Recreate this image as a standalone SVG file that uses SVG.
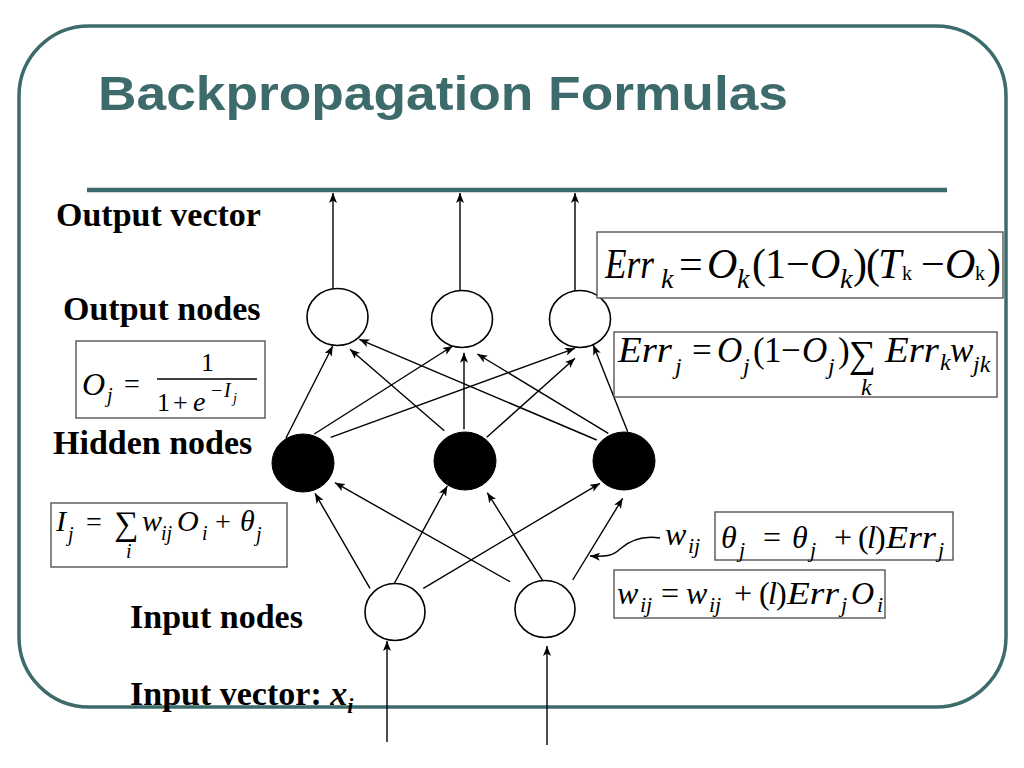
<svg xmlns="http://www.w3.org/2000/svg" width="1024" height="768" viewBox="0 0 1024 768">
<defs>
<marker id="ah" viewBox="0 0 10 8" markerUnits="userSpaceOnUse" markerWidth="10" markerHeight="8" refX="10" refY="4" orient="auto">
<path d="M0,0 L10,4 L0,8 L2.5,4 z" fill="#000"/>
</marker>
<style>
.frame{fill:none;stroke:#3d6b6b;stroke-width:3.5}
.rule{stroke:#3d6b6b;stroke-width:4.5}
.title{font-family:"Liberation Sans",Arial,sans-serif;font-weight:bold;font-size:48px;fill:#3d6b6b}
.lbl{font-family:"Liberation Serif","Times New Roman",serif;font-weight:bold;font-size:34px;fill:#000}
.wn{fill:#fff;stroke:#000;stroke-width:1.6}
.bn{fill:#000;stroke:#000;stroke-width:1}
.cn line,.cn path{stroke:#000;stroke-width:1.4;fill:none;marker-end:url(#ah)}
.box{fill:#fff;stroke:#555;stroke-width:1.4}
.mi{font-family:"Liberation Serif","Times New Roman",serif;font-style:italic;fill:#000}
.mn{font-family:"Liberation Serif","Times New Roman",serif;fill:#000}
</style>
</defs>
<rect width="1024" height="768" fill="#fff"/>
<rect class="frame" x="19" y="26" width="987" height="681" rx="70" ry="70"/>
<text class="title" x="98" y="110" textLength="690" lengthAdjust="spacingAndGlyphs">Backpropagation Formulas</text>
<line class="rule" x1="87" y1="190" x2="947" y2="190"/>

<g id="labels">
<text class="lbl" x="56" y="226">Output vector</text>
<text class="lbl" x="63" y="320">Output nodes</text>
<text class="lbl" x="53" y="454">Hidden nodes</text>
<text class="lbl" x="130" y="628">Input nodes</text>
<text class="lbl" x="130" y="705">Input vector: <tspan font-style="italic">x</tspan><tspan font-style="italic" font-size="22" y="713">i</tspan></text>
</g>

<g id="connectors" class="cn">
<line x1="333" y1="288" x2="333" y2="193"/>
<line x1="460" y1="291" x2="460" y2="193"/>
<line x1="575" y1="291" x2="575" y2="193"/>
<line x1="286" y1="438" x2="332.7" y2="346"/>
<line x1="314.3" y1="434" x2="452.7" y2="346"/>
<line x1="330.7" y1="437.3" x2="575" y2="348.3"/>
<line x1="444.3" y1="430.7" x2="350" y2="349.3"/>
<line x1="464" y1="429.3" x2="464" y2="352.7"/>
<line x1="486.7" y1="437.3" x2="575" y2="358.3"/>
<line x1="596.7" y1="440" x2="359.3" y2="339.3"/>
<line x1="608.3" y1="433.3" x2="477.3" y2="354"/>
<line x1="627.7" y1="431.7" x2="593.3" y2="345"/>
<line x1="370" y1="588.3" x2="315" y2="493.3"/>
<line x1="394" y1="584" x2="447.3" y2="486"/>
<line x1="423.3" y1="588.3" x2="600" y2="483.3"/>
<line x1="510" y1="581.7" x2="335" y2="482.7"/>
<line x1="542.7" y1="580.7" x2="487.3" y2="492.7"/>
<line x1="572.7" y1="580" x2="622.7" y2="498.3"/>
<line x1="387" y1="742" x2="387" y2="641"/>
<line x1="547" y1="745" x2="547" y2="646"/>
<path d="M660,538 C640,535 628,542 620,549 C613,556 605,557 590,556"/>
</g>

<g id="output-node-1"><ellipse class="wn" cx="337.5" cy="317" rx="30.5" ry="28.5"/></g>
<g id="output-node-2"><ellipse class="wn" cx="462" cy="319" rx="30.5" ry="28.5"/></g>
<g id="output-node-3"><ellipse class="wn" cx="580" cy="319" rx="30.5" ry="28.5"/></g>
<g id="hidden-node-1"><ellipse class="bn" cx="303" cy="463" rx="31" ry="29"/></g>
<g id="hidden-node-2"><ellipse class="bn" cx="465" cy="461" rx="31" ry="29"/></g>
<g id="hidden-node-3"><ellipse class="bn" cx="624" cy="461" rx="31" ry="29"/></g>
<g id="input-node-1"><ellipse class="wn" cx="395" cy="612" rx="30" ry="28.5"/></g>
<g id="input-node-2"><ellipse class="wn" cx="545" cy="609" rx="30" ry="28.5"/></g>

<g id="formula-err-k">
<rect class="box" x="597" y="232" width="406" height="66"/>
<g font-size="42">
<text class="mi" x="605" y="278" textLength="49" lengthAdjust="spacingAndGlyphs">Err</text>
<text class="mi" x="661" y="288" font-size="28">k</text>
<text class="mn" x="679" y="278">=</text>
<text class="mi" x="707" y="278">O</text>
<text class="mi" x="737" y="288" font-size="28">k</text>
<text class="mn" x="752" y="278">(</text>
<text class="mn" x="765" y="278">1</text>
<text class="mn" x="786" y="278">−</text>
<text class="mi" x="810" y="278">O</text>
<text class="mi" x="840" y="288" font-size="28">k</text>
<text class="mn" x="853" y="278">)</text>
<text class="mn" x="866" y="278">(</text>
<text class="mi" x="878" y="278">T</text>
<text class="mn" x="902" y="280" font-size="20">k</text>
<text class="mn" x="921" y="278">−</text>
<text class="mi" x="945" y="278">O</text>
<text class="mn" x="975" y="280" font-size="20">k</text>
<text class="mn" x="987" y="278">)</text>
</g>
</g>

<g id="formula-err-j">
<rect class="box" x="614" y="332" width="383" height="65"/>
<g font-size="35">
<text class="mi" x="618" y="362" textLength="54" lengthAdjust="spacingAndGlyphs">Err</text>
<text class="mi" x="675" y="374" font-size="24">j</text>
<text class="mn" x="692" y="362">=</text>
<text class="mi" x="717" y="362">O</text>
<text class="mi" x="743" y="374" font-size="24">j</text>
<text class="mn" x="753" y="362">(</text>
<text class="mn" x="764" y="362">1</text>
<text class="mn" x="781" y="362">−</text>
<text class="mi" x="802" y="362">O</text>
<text class="mi" x="828" y="374" font-size="24">j</text>
<text class="mn" x="838" y="362">)</text>
<text class="mn" x="849" y="367" font-size="38">∑</text>
<text class="mi" x="861" y="395" font-size="24">k</text>
<text class="mi" x="885" y="362" textLength="54" lengthAdjust="spacingAndGlyphs">Err</text>
<text class="mi" x="940" y="370" font-size="24">k</text>
<text class="mi" x="950" y="362">w</text>
<text class="mi" x="973" y="372" font-size="24">jk</text>
</g>
</g>

<g id="formula-sigmoid">
<rect class="box" x="76" y="341" width="189" height="77"/>
<text class="mi" x="82" y="395" font-size="32">O</text>
<text class="mi" x="107" y="402" font-size="20">j</text>
<text class="mn" x="124" y="393" font-size="28">=</text>
<line x1="157" y1="379" x2="257" y2="379" stroke="#000" stroke-width="1.3"/>
<text class="mn" x="201" y="371" font-size="26">1</text>
<text class="mn" x="157" y="411" font-size="26">1</text>
<text class="mn" x="173" y="411" font-size="26">+</text>
<text class="mi" x="193" y="411" font-size="28">e</text>
<text class="mn" x="211" y="397" font-size="20">−</text>
<text class="mi" x="224" y="397" font-size="20">I</text>
<text class="mi" x="233" y="403" font-size="14">j</text>
</g>

<g id="formula-input">
<rect class="box" x="51" y="503" width="236" height="64"/>
<text class="mi" x="56" y="531" font-size="30">I</text>
<text class="mi" x="68" y="541" font-size="20">j</text>
<text class="mn" x="86" y="531" font-size="28">=</text>
<text class="mn" x="114" y="535" font-size="34">∑</text>
<text class="mi" x="126" y="558" font-size="20">i</text>
<text class="mi" x="142" y="531" font-size="30">w</text>
<text class="mi" x="161" y="540" font-size="20">ij</text>
<text class="mi" x="177" y="531" font-size="30">O</text>
<text class="mi" x="202" y="540" font-size="20">i</text>
<text class="mn" x="215" y="531" font-size="28">+</text>
<text class="mi" x="240" y="531" font-size="30">θ</text>
<text class="mi" x="256" y="541" font-size="20">j</text>
</g>

<g id="label-wij">
<text class="mi" x="665" y="545" font-size="32">w</text>
<text class="mi" x="688" y="553" font-size="22">ij</text>
</g>

<g id="formula-theta">
<rect class="box" x="715" y="512" width="238" height="48"/>
<g font-size="32">
<text class="mi" x="721" y="548">θ</text>
<text class="mi" x="739" y="557" font-size="22">j</text>
<text class="mn" x="763" y="548">=</text>
<text class="mi" x="792" y="548">θ</text>
<text class="mi" x="810" y="557" font-size="22">j</text>
<text class="mn" x="834" y="548">+</text>
<text class="mn" x="858" y="548">(</text>
<text class="mi" x="867" y="548">l</text>
<text class="mn" x="875" y="548">)</text>
<text class="mi" x="886" y="548" textLength="50" lengthAdjust="spacingAndGlyphs">Err</text>
<text class="mi" x="938" y="557" font-size="22">j</text>
</g>
</g>

<g id="formula-weight">
<rect class="box" x="614" y="570" width="271" height="48"/>
<g font-size="32">
<text class="mi" x="617" y="604">w</text>
<text class="mi" x="640" y="612" font-size="22">ij</text>
<text class="mn" x="661" y="604">=</text>
<text class="mi" x="686" y="604">w</text>
<text class="mi" x="709" y="612" font-size="22">ij</text>
<text class="mn" x="734" y="604">+</text>
<text class="mn" x="759" y="604">(</text>
<text class="mi" x="768" y="604">l</text>
<text class="mn" x="776" y="604">)</text>
<text class="mi" x="787" y="604" textLength="52" lengthAdjust="spacingAndGlyphs">Err</text>
<text class="mi" x="841" y="612" font-size="22">j</text>
<text class="mi" x="851" y="604">O</text>
<text class="mi" x="877" y="612" font-size="22">i</text>
</g>
</g>
</svg>
